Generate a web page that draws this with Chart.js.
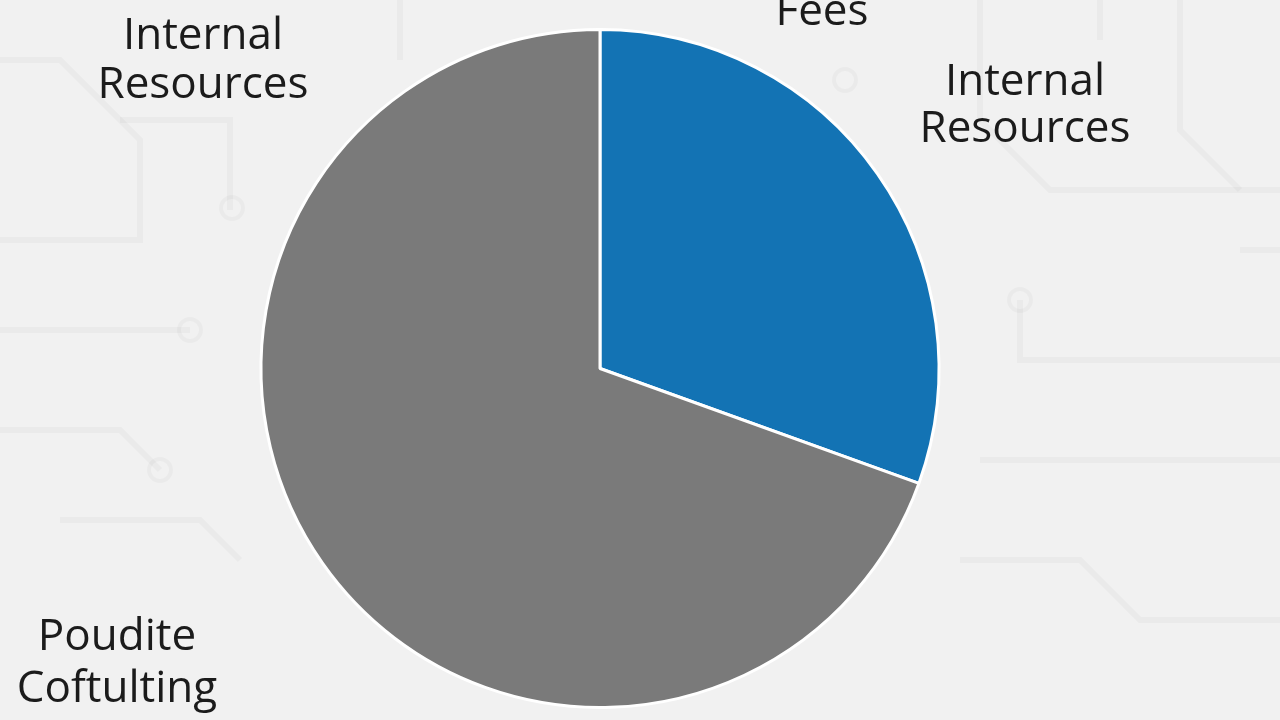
<!DOCTYPE html>
<html>
<head>
<meta charset="utf-8">
<script src="https://cdn.jsdelivr.net/npm/chart.js@4/dist/chart.umd.min.js"></script>
<style>
html,body{margin:0;padding:0;background:#f1f1f1;}
#wrap{width:1280px;height:720px;position:relative;}
</style>
</head>
<body>
<div id="wrap"><canvas id="c" width="1280" height="720"></canvas></div>
<script>
const categories = ["Fees / Internal Resources", "Internal Resources / Poudite Coftulting"];
const values = [30.5, 69.5];
const sliceColors = ["#1373b4", "#7a7a7a"];
const annotationTexts = [
  ["Fees"],
  ["Internal", "Resources"],
  ["Internal", "Resources"],
  ["Poudite", "Coftulting"]
];

const labelPlugin = {
  id: 'floatLabels',
  beforeDraw(chart) {
    const ctx = chart.ctx;
    ctx.save();
    ctx.fillStyle = '#f1f1f1';
    ctx.fillRect(0, 0, chart.width, chart.height);
    ctx.strokeStyle = 'rgba(0,0,0,0.028)';
    ctx.lineWidth = 6;
    const traces = [
      [[0,60],[60,60],[140,140],[140,240],[0,240]],
      [[0,330],[190,330]],
      [[0,430],[120,430],[160,470]],
      [[230,210],[230,120],[120,120]],
      [[400,0],[400,60]],
      [[980,0],[980,120],[1050,190],[1280,190]],
      [[1020,300],[1020,360],[1280,360]],
      [[1100,0],[1100,40]],
      [[1180,0],[1180,130],[1240,190]],
      [[960,560],[1080,560],[1140,620],[1280,620]],
      [[980,460],[1280,460]],
      [[60,520],[200,520],[240,560]],
      [[1240,250],[1280,250]]
    ];
    traces.forEach(t => {
      ctx.beginPath();
      t.forEach((p,i) => i ? ctx.lineTo(p[0],p[1]) : ctx.moveTo(p[0],p[1]));
      ctx.stroke();
    });
    ctx.lineWidth = 4;
    [[232,208],[190,330],[160,470],[1020,300],[845,80]].forEach(p => {
      ctx.beginPath(); ctx.arc(p[0], p[1], 11, 0, Math.PI*2); ctx.stroke();
    });
    ctx.restore();
  },
  afterDraw(chart, args, opts) {
    const ctx = chart.ctx;
    ctx.save();
    ctx.fillStyle = '#1b1b1b';
    ctx.font = '44px "Open Sans", sans-serif';
    ctx.textAlign = 'center';
    ctx.textBaseline = 'alphabetic';
    opts.positions.forEach((pos, i) => {
      annotationTexts[i].forEach((line, j) => {
        ctx.fillText(line, pos[0], pos[1] + j * pos[2]);
      });
    });
    ctx.restore();
  }
};

new Chart(document.getElementById('c'), {
  type: 'pie',
  data: {
    labels: categories,
    datasets: [{
      data: values,
      backgroundColor: sliceColors,
      borderColor: '#ffffff',
      borderWidth: 3
    }]
  },
  options: {
    responsive: false,
    animation: false,
    layout: { padding: { left: 0, right: 80, top: 28, bottom: 11 } },
    plugins: {
      legend: { display: false },
      tooltip: { enabled: false },
      floatLabels: {
        positions: [[822, 25, 0], [1025, 95, 47], [203, 49, 49], [117, 650, 52]]
      }
    }
  },
  plugins: [labelPlugin]
});
</script>
</body>
</html>
